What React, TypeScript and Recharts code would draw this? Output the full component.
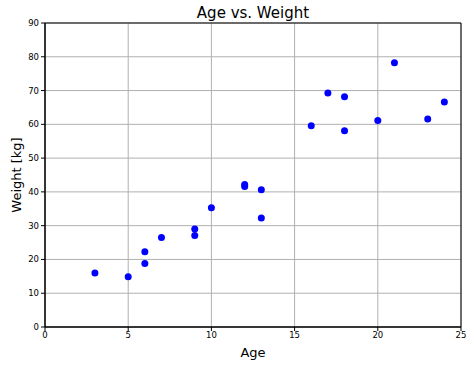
import React from 'react';
import {
  ScatterChart, Scatter, XAxis, YAxis, CartesianGrid, ReferenceArea,
} from 'recharts';

// Edad y peso
const ages = [3, 5, 6, 6, 7, 9, 9, 10, 12, 12, 13, 13, 16, 17, 18, 18, 20, 21, 23, 24];
const weights = [16, 14.9, 22.3, 18.8, 26.5, 29, 27.1, 35.3, 42.2, 41.6, 40.6, 32.3, 59.6, 69.3, 68.2, 58.1, 61.1, 78.2, 61.6, 66.6];
const xTicks = [0, 5, 10, 15, 20, 25];
const yTicks = [0, 10, 20, 30, 40, 50, 60, 70, 80, 90];

const data = ages.map((age, i) => ({ age, weight: weights[i] }));

const FONT = '"DejaVu Sans", sans-serif';
const tickStyle = { fill: '#000', fontSize: 8.5, fontFamily: FONT };

// eslint-disable-next-line @typescript-eslint/no-explicit-any
function Dot(props: any) {
  const { cx, cy } = props;
  return <circle cx={cx} cy={cy} r={3.5} fill="#0000ff" />;
}

export default function App() {
  return (
    <div style={{ position: 'absolute', left: 0, top: 0, width: 474, height: 365, background: '#fff', fontFamily: FONT }}>
      <div style={{ position: 'absolute', left: 45, width: 416, top: 4, textAlign: 'center', fontSize: 15, color: '#000' }}>
        Age vs. Weight
      </div>
      <div style={{ position: 'absolute', left: 45, width: 416, top: 345, textAlign: 'center', fontSize: 13, color: '#000' }}>
        Age
      </div>
      <div style={{
        position: 'absolute', left: 16, top: 175, fontSize: 13, color: '#000', whiteSpace: 'nowrap',
        transform: 'translate(-50%, -50%) rotate(-90deg)',
      }}>
        Weight [kg]
      </div>
      <ScatterChart width={474} height={365} margin={{ top: 23, right: 13, left: 0, bottom: 0 }}>
        <CartesianGrid stroke="#b0b0b0" strokeWidth={1} />
        <XAxis
          type="number" dataKey="age" domain={[0, 25]} ticks={xTicks} interval={0}
          tick={tickStyle} tickSize={4} tickMargin={1} height={38}
          stroke="#000" tickLine={{ stroke: '#000' }}
        />
        <YAxis
          type="number" dataKey="weight" domain={[0, 90]} ticks={yTicks} interval={0}
          tick={tickStyle} tickSize={4} tickMargin={2} width={45}
          stroke="#000" tickLine={{ stroke: '#000' }}
        />
        <ReferenceArea x1={0} x2={25} y1={0} y2={90} fill="none" stroke="#000" strokeWidth={1} ifOverflow="visible" />
        <Scatter data={data} shape={<Dot />} isAnimationActive={false} />
      </ScatterChart>
    </div>
  );
}
